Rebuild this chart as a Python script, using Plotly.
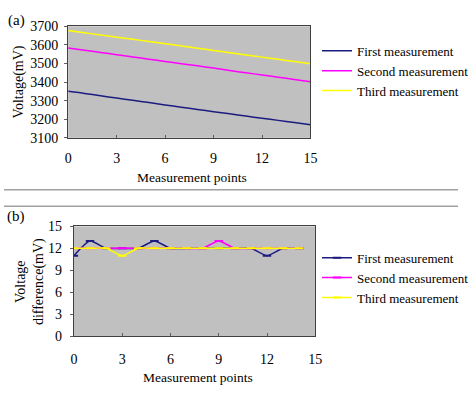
import plotly.graph_objects as go

points = list(range(16))
first_v = [3350, 3339, 3326, 3314, 3302, 3290, 3277, 3265, 3253, 3241, 3229, 3217, 3205, 3194, 3182, 3170]
second_v = [3583, 3571, 3559, 3547, 3535, 3523, 3511, 3499, 3487, 3475, 3462, 3450, 3438, 3426, 3414, 3402]
third_v = [3677, 3665, 3653, 3641, 3630, 3618, 3606, 3594, 3582, 3570, 3558, 3546, 3534, 3522, 3510, 3498]

diff_points = list(range(15))
first_d = [11, 13, 12, 12, 12, 13, 12, 12, 12, 12, 12, 12, 11, 12, 12]
second_d = [12, 12, 12, 12, 12, 12, 12, 12, 12, 13, 12, 12, 12, 12, 12]
third_d = [12, 12, 12, 11, 12, 12, 12, 12, 12, 12, 12, 12, 12, 12, 12]

names = ["First measurement", "Second measurement", "Third measurement"]
colors = ["#1c1c80", "#ff00ff", "#ffff00"]

FONT = "'Liberation Serif', 'Times New Roman', serif"
W, H = 474, 397

fig = go.Figure()
for name, vals, c in zip(names, [first_v, second_v, third_v], colors):
    fig.add_trace(go.Scatter(x=points, y=vals, name=name, mode="lines",
                             line=dict(color=c, width=1.5, shape="spline", smoothing=0.6),
                             xaxis="x", yaxis="y", legend="legend"))
for name, vals, c in zip(names, [first_d, second_d, third_d], colors):
    fig.add_trace(go.Scatter(x=diff_points, y=vals, name=name, mode="lines+markers",
                             line=dict(color=c, width=1.5, shape="spline", smoothing=0.6),
                             marker=dict(symbol="line-ew", size=6, line=dict(color=c, width=2)),
                             xaxis="x2", yaxis="y2", legend="legend2"))

def px_x(p):
    return p / W

def px_y(p):
    return 1 - p / H

axis_common = dict(showgrid=False, zeroline=False, showline=True, linecolor="#404040",
                   linewidth=1, mirror=True, ticklen=3, tickcolor="#606060",
                   tickfont=dict(family=FONT, size=14, color="black"))

fig.update_layout(
    width=W, height=H, margin=dict(l=0, r=0, t=0, b=0),
    paper_bgcolor="white", plot_bgcolor="#c0c0c0",
    font=dict(family=FONT, color="black"),
    xaxis=dict(domain=[px_x(67), px_x(320)], range=[0, 15], dtick=3, anchor="y",
               ticks="inside", ticklabelstandoff=7, **axis_common),
    yaxis=dict(domain=[px_y(136), px_y(20)], range=[3100, 3700], dtick=100, anchor="x",
               ticks="outside", ticklabelstandoff=3, **axis_common),
    xaxis2=dict(domain=[px_x(73), px_x(325)], range=[0, 15], dtick=3, anchor="y2",
                ticks="inside", ticklabelstandoff=10, **axis_common),
    yaxis2=dict(domain=[px_y(342), px_y(228)], range=[0, 15], dtick=3, anchor="x2",
                ticks="outside", ticklabelstandoff=5, **axis_common),
    legend=dict(x=px_x(327), y=px_y(30), xanchor="left", yanchor="top",
                font=dict(family=FONT, size=13), bgcolor="rgba(0,0,0,0)",
                itemwidth=30, tracegroupgap=0),
    legend2=dict(x=px_x(327), y=px_y(245), xanchor="left", yanchor="top",
                 font=dict(family=FONT, size=13), bgcolor="rgba(0,0,0,0)",
                 itemwidth=30, tracegroupgap=0),
    showlegend=True,
)

fig.add_shape(type="line", xref="paper", yref="paper", x0=0, x1=1, y0=px_y(190), y1=px_y(190),
              line=dict(color="#a0a0a0", width=1.5))
fig.add_shape(type="line", xref="paper", yref="paper", x0=0, x1=1, y0=px_y(207), y1=px_y(207),
              line=dict(color="#a0a0a0", width=1.5))

ann = [
    dict(text="(a)", x=px_x(13), y=px_y(14), size=15),
    dict(text="(b)", x=px_x(13), y=px_y(218), size=15),
    dict(text="Measurement points", x=px_x(196), y=px_y(177), size=13.5),
    dict(text="Measurement points", x=px_x(203), y=px_y(385), size=13.5),
]
for a in ann:
    fig.add_annotation(text=a["text"], x=a["x"], y=a["y"], xref="paper", yref="paper",
                       showarrow=False, xanchor="center", yanchor="middle",
                       font=dict(family=FONT, size=a["size"], color="black"))

fig.add_annotation(text="Voltage(mV)", x=px_x(16), y=px_y(78), xref="paper", yref="paper",
                   showarrow=False, textangle=-90, xanchor="center", yanchor="middle",
                   font=dict(family=FONT, size=14, color="black"))
fig.add_annotation(text="Voltage<br>difference(mV)", x=px_x(27), y=px_y(285), xref="paper", yref="paper",
                   showarrow=False, textangle=-90, xanchor="center", yanchor="middle",
                   font=dict(family=FONT, size=14, color="black"))

fig.write_html("out.html", config={"displayModeBar": False},
               post_script="document.body.style.margin='0';")
